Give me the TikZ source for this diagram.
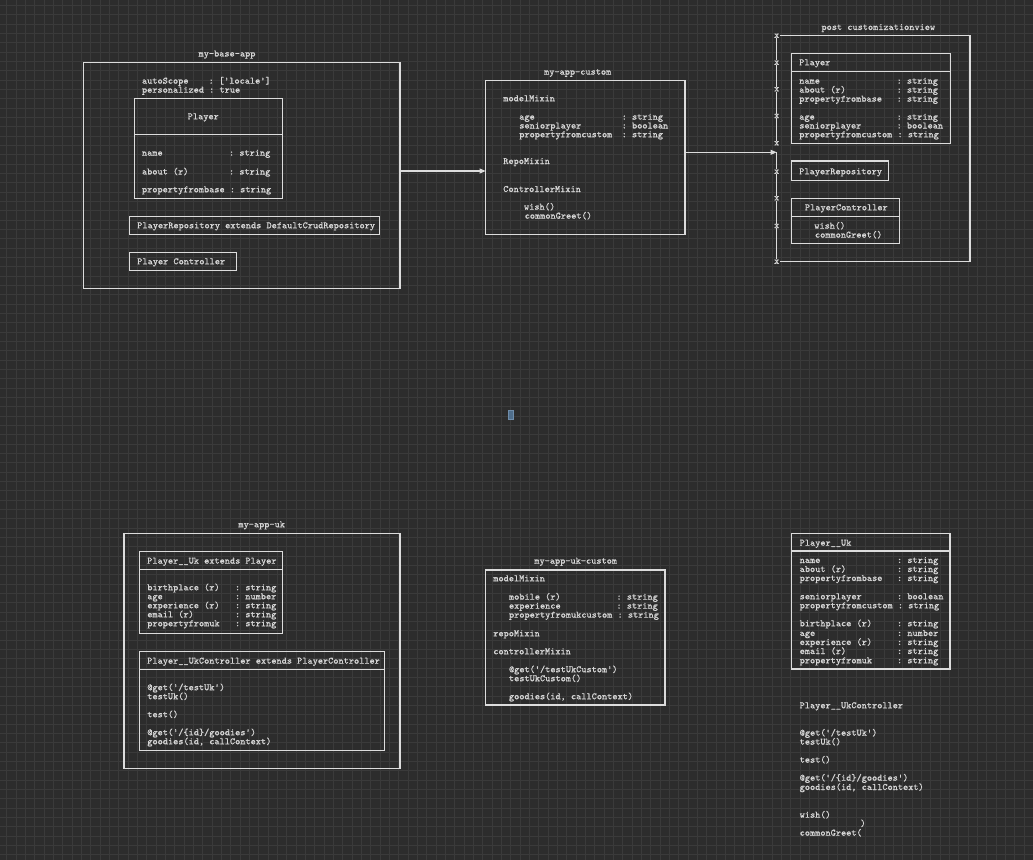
\documentclass[tikz,border=0pt]{standalone}
\usepackage{fontspec}
\setmonofont{Latin Modern Mono}[FakeBold=0.5]
\usetikzlibrary{arrows.meta,fit}
\definecolor{bg}{HTML}{2C2C2C}
\definecolor{gridc}{HTML}{3A3A3A}
\definecolor{ink}{HTML}{DCDCDC}
\definecolor{txtc}{HTML}{D6D6D6}
\definecolor{curfill}{HTML}{4F6E8C}
\definecolor{curdraw}{HTML}{6F8DAA}
\newcounter{tn}
\newcommand\T[4][]{\stepcounter{tn}\node[txt,#1] (t\thetn) at (#2,#3+3) {#4};}
\newcommand\Bx[5]{\node[box,fit={(#2,#3) (#4,#5)}] (#1) {};}
\tikzset{
  txt/.style={anchor=base west,inner sep=0pt,outer sep=0pt,text=txtc,
    font=\fontsize{7.3pt}{8pt}\selectfont\ttfamily},
  ttl/.style={txt,anchor=base},
  box/.style={draw=ink,line width=0.8pt,inner sep=0pt,outer sep=0pt},
  frame/.style={draw=none,inner sep=0pt,outer sep=0pt},
  edge/.style={draw=ink,line width=0.8pt},
  arr/.style={draw=ink,line width=0.8pt,-{Triangle[length=4.5pt,width=3.6pt]}},
  xmark/.style={txt,anchor=center,fill=bg,inner sep=0.3pt},
}
\begin{document}
\begin{tikzpicture}[x=0.75pt,y=-0.75pt]
\useasboundingbox (0,0) rectangle (1033,860);
\fill[bg] (0,0) rectangle (1033,860);
\foreach \i in {0,...,110} {\draw[gridc,line width=0.6pt] ({6.7+\i*9.333},0) -- ({6.7+\i*9.333},860);}
\foreach \j in {0,...,92} {\draw[gridc,line width=0.6pt] (0,{5.33+\j*9.333}) -- (1033,{5.33+\j*9.333});}

% ---------- my-base-app ----------
\T[ttl]{227}{53.5}{my-base-app}
\Bx{base}{83.3}{62.3}{400}{288.3}
\T{142}{80.7}{autoScope}
\T{208.6}{80.7}{: ['locale']}
\T{142}{89.7}{personalized : true}
\Bx{bplayer}{134.3}{98.7}{282.3}{198.3}
\draw[edge] (bplayer.west |- 0,134.3) -- (bplayer.east |- 0,134.3);
\T[ttl]{203.3}{116.3}{Player}
\T{142}{152.7}{name}
\T{229}{152.7}{: string}
\T{142}{171.5}{about (r)}
\T{229}{171.5}{: string}
\T{142}{189.3}{propertyfrombase : string}
\Bx{brepo}{129.3}{216.7}{379.3}{234.3}
\T{137.3}{225.3}{PlayerRepository extends DefaultCrudRepository}
\Bx{bctrl}{129.3}{252.3}{236.7}{270.3}
\T{137.3}{261.3}{Player Controller}

% ---------- my-app-custom ----------
\T[ttl]{577.7}{71.7}{my-app-custom}
\Bx{custom}{485.7}{80.7}{685}{234.3}
\T{503.3}{98.3}{modelMixin}
\T{519.3}{116.7}{age}
\T{621.7}{116.7}{: string}
\T{519.3}{125.5}{seniorplayer}
\T{621.7}{125.5}{: boolean}
\T{519.3}{134.3}{propertyfromcustom}
\T{621.7}{134.3}{: string}
\T{503.3}{161}{RepoMixin}
\T{503.3}{189}{ControllerMixin}
\T{524}{206.7}{wish()}
\T{524.7}{215.7}{commonGreet()}

% ---------- post customizationview ----------
\T[ttl]{878.3}{27}{post customizationview}
\node[frame,fit={(776.7,35.7) (970,261.7)}] (post) {};
\draw[edge] (post.west |- 0,143.3) -- (post.north west) -- (post.north east) -- (post.south east) -- (post.south west) -- (post.west |- 0,152.3);
\foreach \yy in {35.7,62.7,89.3,116,143.3,171.7,198.3,226,261.7} {\node[xmark] at (776.7,\yy) {x};}
\Bx{pplayer}{791.7}{53.3}{950.3}{143.3}
\draw[edge] (pplayer.west |- 0,71.7) -- (pplayer.east |- 0,71.7);
\T{799.3}{62.3}{Player}
\T{799.3}{80.7}{name}
\T{896.6}{80.7}{: string}
\T{799.3}{89.7}{about (r)}
\T{896.6}{89.7}{: string}
\T{799.3}{98.7}{propertyfrombase}
\T{896.6}{98.7}{: string}
\T{799.3}{116.7}{age}
\T{896.6}{116.7}{: string}
\T{799.3}{125.5}{seniorplayer}
\T{896.6}{125.5}{: boolean}
\T{799.3}{134.3}{propertyfromcustom : string}
\Bx{prepo}{791.7}{161}{888.7}{180.3}
\T{799.3}{171.3}{PlayerRepository}
\Bx{pctrl}{791.7}{198.3}{899.3}{243.7}
\draw[edge] (pctrl.west |- 0,216.3) -- (pctrl.east |- 0,216.3);
\T{805}{207.3}{PlayerController}
\T{814.3}{225.7}{wish()}
\T{815}{234.7}{commonGreet()}

% ---------- connectors ----------
\coordinate (ya) at (0,171);
\coordinate (yb) at (0,152.3);
\draw[arr] (base.east |- ya) -- (custom.west |- ya);
\draw[arr] (custom.east |- yb) -- (post.west |- yb);

% ---------- my-app-uk ----------
\T[ttl]{261.7}{524.3}{my-app-uk}
\Bx{uk}{124}{533.7}{400}{768.3}
\Bx{ukplayer}{139.3}{551.7}{282.3}{633.3}
\draw[edge] (ukplayer.west |- 0,569.3) -- (ukplayer.east |- 0,569.3);
\T{147.3}{560.7}{Player\_\_Uk extends Player}
\T{147.3}{587.3}{birthplace (r)}
\T{235}{587.3}{: string}
\T{147.3}{596.3}{age}
\T{235}{596.3}{: number}
\T{147.3}{605.3}{experience (r)}
\T{235}{605.3}{: string}
\T{147.3}{614.3}{email (r)}
\T{235}{614.3}{: string}
\T{147.3}{623.3}{propertyfromuk}
\T{235}{623.3}{: string}
\Bx{ukctrl}{139.3}{651.7}{384.3}{750.3}
\draw[edge] (ukctrl.west |- 0,669.3) -- (ukctrl.east |- 0,669.3);
\T{147.3}{660.7}{Player\_\_UkController extends PlayerController}
\T{147.3}{687.3}{@get('/testUk')}
\T{147.3}{696.3}{testUk()}
\T{147.3}{714.3}{test()}
\T{147.3}{732.3}{@get('/\{id\}/goodies')}
\T{147.3}{741.3}{goodies(id, callContext)}

% ---------- my-app-uk-custom ----------
\T[ttl]{575.7}{560.7}{my-app-uk-custom}
\Bx{ukcustom}{485.7}{570}{665}{705}
\T{493.3}{578.3}{modelMixin}
\T{509}{596.7}{mobile (r)}
\T{616.5}{596.7}{: string}
\T{509}{605.7}{experience}
\T{616.5}{605.7}{: string}
\T{509}{614.7}{propertyfromukcustom : string}
\T{493.3}{633.3}{repoMixin}
\T{493.3}{651.3}{controllerMixin}
\T{509}{669.3}{@get('/testUkCustom')}
\T{509}{678.3}{testUkCustom()}
\T{509}{696.3}{goodies(id, callContext)}

% ---------- Player__Uk (result) ----------
\Bx{rplayer}{791.7}{533.3}{950}{669}
\draw[edge] (rplayer.west |- 0,551) -- (rplayer.east |- 0,551);
\T{799.7}{542.7}{Player\_\_Uk}
\T{799.7}{560}{name}
\T{897}{560}{: string}
\T{799.7}{569}{about (r)}
\T{897}{569}{: string}
\T{799.7}{578}{propertyfrombase}
\T{897}{578}{: string}
\T{799.7}{596.3}{seniorplayer}
\T{897}{596.3}{: boolean}
\T{799.7}{605.3}{propertyfromcustom : string}
\T{799.7}{623.3}{birthplace (r)}
\T{897}{623.3}{: string}
\T{799.7}{633}{age}
\T{897}{633}{: number}
\T{799.7}{642}{experience (r)}
\T{897}{642}{: string}
\T{799.7}{651}{email (r)}
\T{897}{651}{: string}
\T{799.7}{660.3}{propertyfromuk}
\T{897}{660.3}{: string}

% ---------- Player__UkController (result) ----------
\T{799.7}{705.3}{Player\_\_UkController}
\T{799.7}{732.7}{@get('/testUk')}
\T{799.7}{741.7}{testUk()}
\T{799.7}{759.7}{test()}
\T{799.7}{777.7}{@get('/\{id\}/goodies')}
\T{799.7}{787}{goodies(id, callContext)}
\T{799.7}{814.7}{wish()}
\T{860.5}{823.3}{)}
\T{799.7}{832.7}{commonGreet(}

% ---------- small marker ----------
\node[draw=curdraw,fill=curfill,line width=0.5pt,inner sep=0pt,fit={(508.5,410.7) (513.8,419.8)}] (cursor) {};
\end{tikzpicture}
\end{document}
